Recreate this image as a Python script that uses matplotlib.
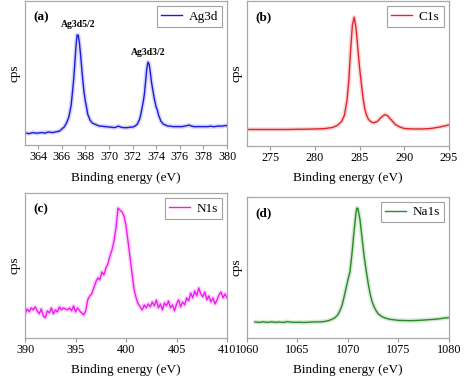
"""
XPS spectra: Ag3d, C1s, N1s, Na1s (four panels)
"""

import matplotlib
matplotlib.use('Agg')
import matplotlib.pyplot as plt

plt.rcParams['font.family'] = ['Liberation Serif', 'DejaVu Serif']
plt.rcParams['mathtext.fontset'] = 'stix'

# ---- data (cps, arbitrary units) ----
ag_energy = [363.0, 363.2, 363.4, 363.6, 363.8, 364.0, 364.2, 364.4, 364.6, 364.8,
             365.0, 365.2, 365.4, 365.6, 365.8, 366.0, 366.2, 366.4, 366.6, 366.8,
             366.9, 367.0, 367.1, 367.2, 367.3, 367.4, 367.5, 367.6, 367.7, 367.8,
             367.9, 368.0, 368.1, 368.2, 368.4, 368.6, 368.8, 369.0, 369.2, 369.4,
             369.6, 369.8, 370.0, 370.2, 370.4, 370.6, 370.8, 371.0, 371.2, 371.4,
             371.6, 371.8, 372.0, 372.2, 372.4, 372.6, 372.7, 372.8, 372.9, 373.0,
             373.1, 373.2, 373.3, 373.4, 373.5, 373.6, 373.7, 373.8, 373.9, 374.0,
             374.1, 374.2, 374.4, 374.6, 374.8, 375.0, 375.2, 375.4, 375.6, 375.8,
             376.0, 376.2, 376.4, 376.6, 376.8, 377.0, 377.2, 377.4, 377.6, 377.8,
             378.0, 378.2, 378.4, 378.6, 378.8, 379.0, 379.2, 379.4, 379.6, 379.8,
             380.0]
ag_cps = [12.0, 11.5, 12.0, 12.5, 12.0, 12.0, 12.5, 12.5, 12.0, 13.0,
          13.0, 12.5, 13.0, 13.5, 14.0, 16.0, 18.0, 22.0, 28.0, 40.0,
          52.0, 64.0, 80.0, 98.0, 110.0, 110.0, 102.0, 90.0, 76.0, 63.0,
          52.0, 44.0, 38.0, 31.0, 25.0, 22.0, 21.0, 20.0, 19.0, 19.0,
          18.5, 18.5, 18.0, 18.0, 17.5, 18.0, 19.0, 18.0, 17.5, 17.5,
          17.5, 18.0, 18.0, 19.0, 21.0, 26.0, 31.0, 37.0, 43.0, 51.0,
          63.0, 76.0, 83.0, 81.0, 73.0, 63.0, 56.0, 49.0, 43.0, 38.0,
          35.0, 30.0, 24.0, 21.0, 20.0, 19.0, 19.0, 18.5, 18.5, 18.5,
          18.5, 18.5, 19.0, 19.5, 20.0, 19.0, 18.5, 18.5, 18.5, 18.5,
          18.5, 18.5, 18.5, 19.0, 18.5, 18.5, 19.0, 19.0, 19.0, 19.5,
          19.5]

c_energy = [272.6, 273.0, 274.0, 275.0, 276.0, 277.0, 278.0, 279.0, 280.0, 281.0,
            282.0, 282.5, 283.0, 283.3, 283.6, 283.8, 284.0, 284.2, 284.4, 284.6,
            284.8, 285.0, 285.2, 285.4, 285.6, 285.8, 286.0, 286.3, 286.6, 287.0,
            287.4, 287.8, 288.1, 288.5, 289.0, 289.5, 290.0, 291.0, 292.0, 293.0,
            294.0, 295.0]
c_cps = [16.0, 16.0, 16.0, 16.0, 16.0, 16.0, 16.2, 16.3, 16.5, 16.8,
         18.0, 20.0, 24.0, 30.0, 45.0, 65.0, 95.0, 120.0, 128.0, 118.0,
         98.0, 78.0, 62.0, 47.0, 36.0, 30.0, 26.0, 23.5, 22.7, 24.0,
         28.0, 30.7, 30.0, 26.0, 21.0, 18.5, 17.0, 16.5, 16.5, 17.0,
         18.5, 20.5]

n_energy = [390.0, 390.2, 390.4, 390.6, 390.8, 391.0, 391.2, 391.4, 391.6, 391.8,
            392.0, 392.2, 392.4, 392.6, 392.8, 393.0, 393.2, 393.4, 393.6, 393.8,
            394.0, 394.2, 394.4, 394.6, 394.8, 395.0, 395.2, 395.4, 395.6, 395.8,
            396.0, 396.2, 396.4, 396.6, 396.8, 397.0, 397.2, 397.4, 397.6, 397.8,
            398.0, 398.2, 398.4, 398.6, 398.8, 399.0, 399.2, 399.4, 399.6, 399.8,
            400.0, 400.2, 400.4, 400.6, 400.8, 401.0, 401.2, 401.4, 401.6, 401.8,
            402.0, 402.2, 402.4, 402.6, 402.8, 403.0, 403.2, 403.4, 403.6, 403.8,
            404.0, 404.2, 404.4, 404.6, 404.8, 405.0, 405.2, 405.4, 405.6, 405.8,
            406.0, 406.2, 406.4, 406.6, 406.8, 407.0, 407.2, 407.4, 407.6, 407.8,
            408.0, 408.2, 408.4, 408.6, 408.8, 409.0, 409.2, 409.4, 409.6, 409.8,
            410.0]
n_cps = [24, 29, 26, 30, 28, 31, 27, 24, 29, 22,
         20, 27, 25, 30, 24, 28, 26, 31, 28, 30,
         29, 28, 30, 27, 32, 26, 30, 27, 25, 23,
         27, 38, 42, 44, 50, 56, 60, 58, 66, 63,
         70, 74, 82, 88, 97, 110, 130, 128, 126, 122,
         112, 96, 80, 64, 48, 40, 34, 31, 28, 33,
         30, 34, 31, 36, 32, 38, 30, 34, 28, 35,
         32, 37, 30, 33, 27, 34, 38, 31, 36, 33,
         40, 37, 45, 40, 47, 42, 50, 44, 41, 46,
         38, 42, 36, 40, 34, 38, 43, 46, 40, 44,
         40]

na_energy = [1060.8, 1061.2, 1061.6, 1062.0, 1062.4, 1062.8, 1063.2, 1063.6, 1064.0, 1064.4,
             1064.8, 1065.2, 1065.6, 1066.0, 1066.4, 1066.8, 1067.2, 1067.6, 1068.0, 1068.4,
             1068.7, 1069.0, 1069.2, 1069.4, 1069.6, 1069.8, 1070.0, 1070.2, 1070.4, 1070.6,
             1070.8, 1070.9, 1071.0, 1071.2, 1071.4, 1071.6, 1071.8, 1072.0, 1072.2, 1072.4,
             1072.6, 1072.8, 1073.0, 1073.4, 1073.8, 1074.2, 1074.6, 1075.0, 1075.5, 1076.0,
             1076.5, 1077.0, 1077.5, 1078.0, 1078.5, 1079.0, 1079.5, 1080.0]
na_cps = [16.0, 15.5, 16.0, 15.5, 16.0, 15.5, 15.8, 15.4, 16.2, 15.6,
          15.5, 15.6, 15.4, 15.6, 15.8, 16.0, 16.0, 16.3, 17.0, 18.5,
          20.0, 23.0, 27.0, 32.0, 40.0, 49.0, 58.0, 66.0, 84.0, 106.0,
          125.0, 130.0, 129.0, 118.0, 100.0, 82.0, 68.0, 55.0, 44.0, 36.0,
          31.0, 27.0, 24.0, 21.0, 19.5, 18.5, 18.0, 17.5, 17.4, 17.2,
          17.3, 17.5, 17.8, 18.2, 18.5, 19.0, 19.7, 20.3]

panels = [
    # letter, energy, cps, colour, legend, xlim, xticks, ymax, axes rect
    ('(a)', ag_energy, ag_cps, '#1c1cd8', 'Ag3d', (362.9, 380),
     list(range(364, 381, 2)), 144, [0.053, 0.625, 0.426, 0.372]),
    ('(b)', c_energy, c_cps, '#e0262c', 'C1s', (272.4, 295),
     [275, 280, 285, 290, 295], 144, [0.521, 0.624, 0.426, 0.373]),
    ('(c)', n_energy, n_cps, '#ee1cee', 'N1s', (390, 410),
     [390, 395, 400, 405, 410], 145, [0.053, 0.127, 0.426, 0.374]),
    ('(d)', na_energy, na_cps, '#2a8a2a', 'Na1s', (1060, 1080),
     [1060, 1065, 1070, 1075, 1080], 141, [0.521, 0.127, 0.426, 0.364]),
]

fig = plt.figure(figsize=(4.74, 3.87), dpi=100)

for letter, x, y, color, name, xlim, xticks, ymax, rect in panels:
    ax = fig.add_axes(rect)
    # soft glow behind the trace
    ax.plot(x, y, color=color, lw=3.2, alpha=0.18, solid_capstyle='round')
    ax.plot(x, y, color=color, lw=1.0, label=name)
    ax.set_xlim(*xlim)
    ax.set_ylim(0, ymax)
    ax.set_xticks(xticks)
    ax.set_yticks([])
    ax.tick_params(axis='x', labelsize=8.7, length=3, color='#9a9a9a', pad=1.5)
    for sp in ax.spines.values():
        sp.set_color('#a8a8a8')
        sp.set_linewidth(0.9)
    ax.set_xlabel('Binding energy (eV)', fontsize=9.5, labelpad=6)
    ax.set_ylabel('cps', fontsize=9.5, labelpad=3)
    ax.text(0.04, 0.93, letter, transform=ax.transAxes, fontsize=9.5,
            fontweight='bold', va='top', ha='left')
    leg = ax.legend(loc='upper right', fontsize=9.5, handlelength=1.6,
                    handletextpad=0.5, borderpad=0.3, fancybox=False,
                    borderaxespad=0.4)
    leg.get_frame().set_edgecolor('#8a8a8a')
    leg.get_frame().set_linewidth(0.8)

    if name == 'Ag3d':
        ax.text(367.35, 116, 'Ag3d5/2', fontsize=7, fontweight='bold',
                ha='center', va='bottom')
        ax.text(373.3, 88, 'Ag3d3/2', fontsize=7, fontweight='bold',
                ha='center', va='bottom')

plt.savefig('out.png', dpi=100)
plt.close()
